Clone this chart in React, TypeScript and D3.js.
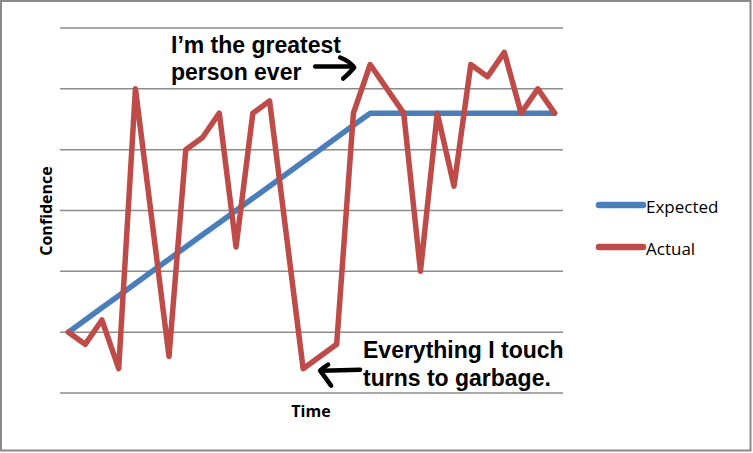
import React from 'react';
import * as d3 from 'd3';

const steps = d3.range(30);
const expected = [1.0, 1.2, 1.4, 1.6, 1.8, 2.0, 2.2, 2.4, 2.6, 2.8, 3.0, 3.2, 3.4, 3.6, 3.8, 4.0, 4.2, 4.4, 4.6, 4.6,
  4.6, 4.6, 4.6, 4.6, 4.6, 4.6, 4.6, 4.6, 4.6, 4.6];
const actual = [1.0, 0.8, 1.2, 0.4, 5.0, 2.8, 0.6, 4.0, 4.2, 4.6, 2.4, 4.6, 4.8, 2.6, 0.4, 0.6, 0.8, 4.6, 5.4, 5.0,
  4.6, 2.0, 4.6, 3.4, 5.4, 5.2, 5.6, 4.6, 5.0, 4.6];
const gridValues = [0, 1, 2, 3, 4, 5, 6];
const seriesNames = ['Expected', 'Actual'];
const seriesColors = ['#4a7ebb', '#be4b48'];

const W = 753;
const H = 453;

const App = () => {
  const x = d3.scalePoint<number>().domain(steps).range([60, 563]).padding(0.5);
  const y = d3.scaleLinear().domain([0, 6]).range([393, 28]);

  const line = d3.line<number>()
    .x((d, i) => x(i) as number)
    .y(d => y(d));

  const series = [expected, actual];

  // annotation arrows anchored to the data points they point at
  const tip1 = { x: (x(18) as number) - 16, y: y(actual[18]) + 3 };
  const tip2 = { x: (x(14) as number) + 17, y: y(actual[14]) + 2 };

  const annoFont = "'Liberation Sans', Arial, sans-serif";
  const labelFont = "'Open Sans', 'Noto Sans', sans-serif";

  return (
    <svg width={W} height={H} style={{ position: 'absolute', left: 0, top: 0, background: '#fff' }}>
      <rect x={1} y={1} width={749.5} height={449.5} fill="#fff" stroke="#8a8a8a" strokeWidth={2} />

      {gridValues.map(v => (
        <line key={v} x1={60} x2={563} y1={y(v)} y2={y(v)} stroke="#8c8c8c" strokeWidth={1.5} />
      ))}

      {series.map((s, i) => (
        <path key={i} d={line(s) as string} fill="none" stroke={seriesColors[i]} strokeWidth={5.5}
          strokeLinejoin="round" strokeLinecap="round" />
      ))}

      <text transform="translate(52,211) rotate(-90)" textAnchor="middle" fontFamily={labelFont}
        fontWeight="bold" fontSize={16}>Confidence</text>
      <text x={311} y={417} textAnchor="middle" fontFamily={labelFont} fontWeight="bold" fontSize={16}>Time</text>

      {seriesNames.map((n, i) => (
        <g key={n} transform={`translate(0,${205 + i * 42})`}>
          <line x1={599} x2={643} y1={0} y2={0} stroke={seriesColors[i]} strokeWidth={6.5} strokeLinecap="round" />
          <text x={646} y={8} fontFamily={labelFont} fontSize={17} fill="#000">{n}</text>
        </g>
      ))}

      <text fontFamily={annoFont} fontWeight="bold" fontSize={23} fill="#000">
        <tspan x={171} y={53}>I’m the greatest</tspan>
        <tspan x={171} y={80}>person ever</tspan>
      </text>
      <text fontFamily={annoFont} fontWeight="bold" fontSize={23} fill="#000">
        <tspan x={363} y={358}>Everything I touch</tspan>
        <tspan x={363} y={386}>turns to garbage.</tspan>
      </text>

      <g fill="none" stroke="#000" strokeWidth={4.5} strokeLinecap="round" strokeLinejoin="round">
        <path d={`M${tip1.x - 39},${tip1.y - 1} L${tip1.x - 1},${tip1.y - 1}`} />
        <path d={`M${tip1.x - 14},${tip1.y - 10} Q${tip1.x - 4},${tip1.y - 6} ${tip1.x},${tip1.y} Q${tip1.x - 5},${tip1.y + 6} ${tip1.x - 11},${tip1.y + 11}`} />
        <path d={`M${tip2.x + 40},${tip2.y - 1} L${tip2.x + 1},${tip2.y}`} />
        <path d={`M${tip2.x + 8},${tip2.y - 6} Q${tip2.x + 3},${tip2.y - 3} ${tip2.x},${tip2.y} Q${tip2.x + 6},${tip2.y + 8} ${tip2.x + 11},${tip2.y + 15}`} />
      </g>
    </svg>
  );
};

export default App;
